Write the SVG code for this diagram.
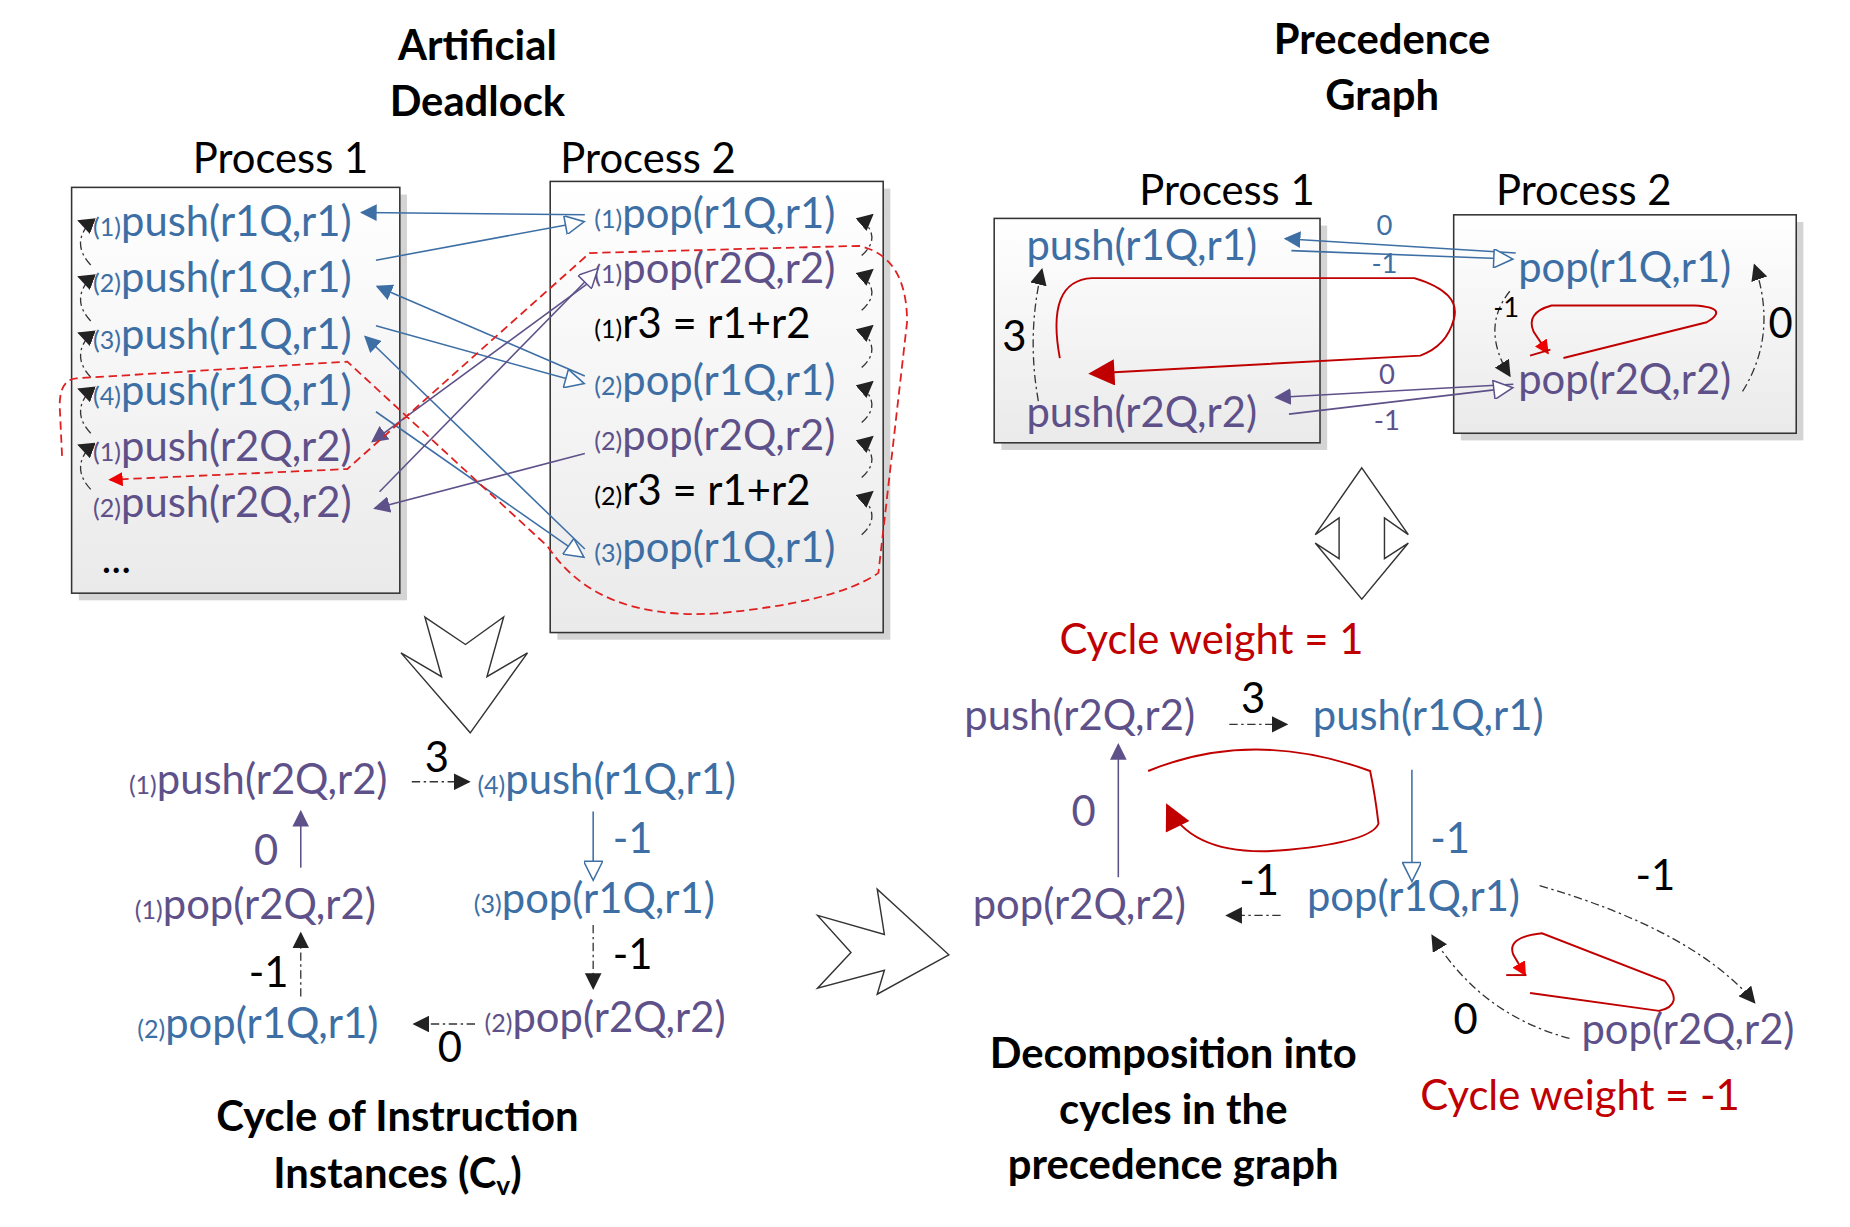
<svg xmlns="http://www.w3.org/2000/svg" width="1850" height="1227" viewBox="0 0 1850 1227">
<defs>
<style>
text{font-family:Lato,"Open Sans","Liberation Sans",sans-serif}
.t{font-size:35px}
.s{font-size:21px}
.n{font-size:23px}
.b{fill:#3d6fa5}.p{fill:#5e5189}.k{fill:#000}.r{fill:#c00000}
.h{font-size:35px;font-weight:bold;text-anchor:middle}
.box{fill:url(#g);stroke:#333;stroke-width:1.3}
.sh{fill:#d4d4d4}
.cb{fill:none;stroke:#3d6fa5;stroke-width:1.3}
.cp{fill:none;stroke:#5e5189;stroke-width:1.3}
.dd{fill:none;stroke:#333;stroke-width:1.1;stroke-dasharray:7 3 2 3}
.rd{fill:none;stroke:#e02020;stroke-width:1.5;stroke-dasharray:7 4}
.rc{fill:none;stroke:#c00000;stroke-width:1.6}
.big{fill:#fff;stroke:#333;stroke-width:1.2}
</style>
<linearGradient id="g" x1="0" y1="0" x2="0" y2="1"><stop offset="0" stop-color="#fff"/><stop offset="1" stop-color="#eaeaea"/></linearGradient>
<marker id="fb" viewBox="0 0 10 10" refX="9" refY="5" markerWidth="14" markerHeight="14" markerUnits="userSpaceOnUse" orient="auto"><path d="M0 0L10 5L0 10z" fill="#3d6fa5"/></marker>
<marker id="fp" viewBox="0 0 10 10" refX="9" refY="5" markerWidth="14" markerHeight="14" markerUnits="userSpaceOnUse" orient="auto"><path d="M0 0L10 5L0 10z" fill="#5e5189"/></marker>
<marker id="hb" viewBox="0 0 10 10" refX="9" refY="5" markerWidth="24" markerHeight="16" markerUnits="userSpaceOnUse" orient="auto"><path d="M0 0L10 5L0 10z" fill="#fff" stroke="#3d6fa5" stroke-width="0.8"/></marker>
<marker id="hp" viewBox="0 0 10 10" refX="9" refY="5" markerWidth="24" markerHeight="16" markerUnits="userSpaceOnUse" orient="auto"><path d="M0 0L10 5L0 10z" fill="#fff" stroke="#5e5189" stroke-width="0.8"/></marker>
<marker id="fk" viewBox="0 0 10 10" refX="9" refY="5" markerWidth="14" markerHeight="14" markerUnits="userSpaceOnUse" orient="auto"><path d="M0 0L10 5L0 10z" fill="#222"/></marker>
<marker id="fr" viewBox="0 0 10 10" refX="9" refY="5" markerWidth="26" markerHeight="22" markerUnits="userSpaceOnUse" orient="auto"><path d="M0 0L10 5L0 10z" fill="#c00000"/></marker>
<marker id="frs" viewBox="0 0 10 10" refX="9" refY="5" markerWidth="12" markerHeight="12" markerUnits="userSpaceOnUse" orient="auto"><path d="M0 0L10 5L0 10z" fill="#ee0000"/></marker>
</defs>
<rect width="1850" height="1227" fill="#fff"/>
<g transform="scale(1.1935)">
<g id="titles">
<text class="h" x="400" y="50">Artificial</text>
<text class="h" x="400" y="97">Deadlock</text>
<text class="h" x="1158" y="45">Precedence</text>
<text class="h" x="1158" y="92">Graph</text>
<text class="h" x="333" y="948">Cycle of Instruction</text>
<text class="h" x="333" y="995">Instances (C<tspan font-size="22" dy="6">v</tspan><tspan dy="-6">)</tspan></text>
<text class="h" x="983" y="895">Decomposition into</text>
<text class="h" x="983" y="942">cycles in the</text>
<text class="h" x="983" y="988">precedence graph</text>
<text class="t r" x="1015" y="548" text-anchor="middle">Cycle weight = 1</text>
<text class="t r" x="1190" y="930">Cycle weight = -1</text>
</g>
<g id="process1-dl">
<text class="t k" x="235" y="145" text-anchor="middle">Process 1</text>
<rect class="sh" x="66" y="163" width="275" height="340"/>
<rect class="box" x="60" y="157" width="275" height="340"/>
<text class="b" x="78" y="198"><tspan class="s">(1)</tspan><tspan class="t">push(r1Q,r1)</tspan></text>
<text class="b" x="78" y="245"><tspan class="s">(2)</tspan><tspan class="t">push(r1Q,r1)</tspan></text>
<text class="b" x="78" y="292"><tspan class="s">(3)</tspan><tspan class="t">push(r1Q,r1)</tspan></text>
<text class="b" x="78" y="339"><tspan class="s">(4)</tspan><tspan class="t">push(r1Q,r1)</tspan></text>
<text class="p" x="78" y="386"><tspan class="s">(1)</tspan><tspan class="t">push(r2Q,r2)</tspan></text>
<text class="p" x="78" y="433"><tspan class="s">(2)</tspan><tspan class="t">push(r2Q,r2)</tspan></text>
<text class="t k" x="85" y="480">...</text>
</g>
<g id="process2-dl">
<text class="t k" x="543" y="145" text-anchor="middle">Process 2</text>
<rect class="sh" x="467" y="158" width="279" height="378"/>
<rect class="box" x="461" y="152" width="279" height="378"/>
<text class="b" x="498" y="191"><tspan class="s">(1)</tspan><tspan class="t">pop(r1Q,r1)</tspan></text>
<text class="p" x="498" y="237"><tspan class="s">(1)</tspan><tspan class="t">pop(r2Q,r2)</tspan></text>
<text class="k" x="498" y="283"><tspan class="s">(1)</tspan><tspan class="t">r3 = r1+r2</tspan></text>
<text class="b" x="498" y="331"><tspan class="s">(2)</tspan><tspan class="t">pop(r1Q,r1)</tspan></text>
<text class="p" x="498" y="377"><tspan class="s">(2)</tspan><tspan class="t">pop(r2Q,r2)</tspan></text>
<text class="k" x="498" y="423"><tspan class="s">(2)</tspan><tspan class="t">r3 = r1+r2</tspan></text>
<text class="b" x="498" y="471"><tspan class="s">(3)</tspan><tspan class="t">pop(r1Q,r1)</tspan></text>
</g>
<g id="process1-pg">
<text class="t k" x="1028" y="172" text-anchor="middle">Process 1</text>
<rect class="sh" x="839" y="189" width="273" height="188"/>
<rect class="box" x="833" y="183" width="273" height="188"/>
<text class="t b" x="860" y="218">push(r1Q,r1)</text>
<text class="t p" x="860" y="358">push(r2Q,r2)</text>
</g>
<g id="process2-pg">
<text class="t k" x="1327" y="172" text-anchor="middle">Process 2</text>
<rect class="sh" x="1224" y="186" width="287" height="183"/>
<rect class="box" x="1218" y="180" width="287" height="183"/>
<text class="t b" x="1272" y="236">pop(r1Q,r1)</text>
<text class="t p" x="1272" y="330">pop(r2Q,r2)</text>
</g>
<g id="cycle-nodes">
<text class="p" x="108" y="665"><tspan class="s">(1)</tspan><tspan class="t">push(r2Q,r2)</tspan></text>
<text class="b" x="400" y="665"><tspan class="s">(4)</tspan><tspan class="t">push(r1Q,r1)</tspan></text>
<text class="p" x="113" y="770"><tspan class="s">(1)</tspan><tspan class="t">pop(r2Q,r2)</tspan></text>
<text class="b" x="397" y="765"><tspan class="s">(3)</tspan><tspan class="t">pop(r1Q,r1)</tspan></text>
<text class="b" x="115" y="870"><tspan class="s">(2)</tspan><tspan class="t">pop(r1Q,r1)</tspan></text>
<text class="p" x="406" y="865"><tspan class="s">(2)</tspan><tspan class="t">pop(r2Q,r2)</tspan></text>
</g>
<g id="decomp-nodes">
<text class="t p" x="808" y="612">push(r2Q,r2)</text>
<text class="t b" x="1100" y="612">push(r1Q,r1)</text>
<text class="t p" x="815" y="770">pop(r2Q,r2)</text>
<text class="t b" x="1095" y="763">pop(r1Q,r1)</text>
<text class="t p" x="1325" y="875">pop(r2Q,r2)</text>
</g>
<g id="big-arrows">
<polygon class="big" points="356,517 390,540 422,517 408,567 442,547 394,614 336,547 370,567"/>
<polygon class="big" points="685,767 741,783 735,745 795,800 735,833 741,813 685,828 713,798"/>
<polygon class="big" points="1141,392 1180,448 1160,434 1160,468 1180,455 1141,502 1102,455 1122,468 1122,434 1102,448"/>
</g>
<g id="connectors">
<path class="dd" d="M76 222Q60 205 74 188L66 185" marker-end="url(#fk)"/>
<path class="dd" d="M76 269Q60 252 74 235L66 232" marker-end="url(#fk)"/>
<path class="dd" d="M76 316Q60 299 74 282L66 279" marker-end="url(#fk)"/>
<path class="dd" d="M76 363Q60 346 74 329L66 326" marker-end="url(#fk)"/>
<path class="dd" d="M76 410Q60 393 74 376L66 373" marker-end="url(#fk)"/>
<path class="dd" d="M722 214Q738 200 724 186L731 180" marker-end="url(#fk)"/>
<path class="dd" d="M722 260Q738 246 724 232L731 226" marker-end="url(#fk)"/>
<path class="dd" d="M722 308Q738 294 724 279L731 273" marker-end="url(#fk)"/>
<path class="dd" d="M722 354Q738 340 724 326L731 320" marker-end="url(#fk)"/>
<path class="dd" d="M722 400Q738 386 724 372L731 366" marker-end="url(#fk)"/>
<path class="dd" d="M722 448Q738 434 724 418L731 412" marker-end="url(#fk)"/>
<path class="cb" d="M490 180L303 178" marker-end="url(#fb)"/>
<path class="cb" d="M315 218L488 186" marker-end="url(#hb)"/>
<path class="cb" d="M490 315L316 240" marker-end="url(#fb)"/>
<path class="cb" d="M315 273L488 321" marker-end="url(#hb)"/>
<path class="cb" d="M490 460L306 282" marker-end="url(#fb)"/>
<path class="cb" d="M315 345L488 466" marker-end="url(#hb)"/>
<path class="cp" d="M500 232L312 370" marker-end="url(#fp)"/>
<path class="cp" d="M318 412L500 226" marker-end="url(#hp)"/>
<path class="cp" d="M490 380L314 426" marker-end="url(#fp)"/>
<path class="rd" d="M52 382L50 340Q50 318 64 317L291 303L459 458Q500 520 600 514Q700 505 736 480L760 270Q760 215 720 206L494 212L291 393L92 402" marker-end="url(#frs)"/>
<path class="cb" d="M1270 212L1077 200" marker-end="url(#fb)"/>
<path class="cb" d="M1082 210L1266 217" marker-end="url(#hb)"/>
<path class="cp" d="M1268 322L1069 333" marker-end="url(#fp)"/>
<path class="cp" d="M1080 347L1266 325" marker-end="url(#hp)"/>
<path class="dd" d="M870 336Q860 280 873 226" marker-end="url(#fk)"/>
<path class="dd" d="M1265 244Q1240 275 1265 315" marker-end="url(#fk)"/>
<path class="dd" d="M1460 328Q1490 280 1470 222" marker-end="url(#fk)"/>
<path class="rc" d="M888 300Q876 235 915 233L1185 233Q1225 245 1218 268Q1212 290 1190 298L914 313" marker-end="url(#fr)"/>
<path class="rc" d="M1310 300L1430 270Q1450 258 1420 256L1300 256Q1278 262 1285 278L1297 296" marker-end="url(#frs)"/>
<path class="rc" d="M1282 298L1299 293"/>
<path class="dd" d="M345 655L393 655" marker-end="url(#fk)"/>
<path class="cp" d="M252 727L252 680" marker-end="url(#fp)"/>
<path class="cb" d="M497 680L497 736" marker-end="url(#hb)"/>
<path class="dd" d="M497 775L497 828" marker-end="url(#fk)"/>
<path class="dd" d="M252 835L252 782" marker-end="url(#fk)"/>
<path class="dd" d="M398 858L347 858" marker-end="url(#fk)"/>
<path class="dd" d="M1030 607L1078 607" marker-end="url(#fk)"/>
<path class="cp" d="M937 735L937 624" marker-end="url(#fp)"/>
<path class="cb" d="M1183 645L1183 737" marker-end="url(#hb)"/>
<path class="dd" d="M1073 767L1028 767" marker-end="url(#fk)"/>
<path class="dd" d="M1290 742Q1420 780 1470 840" marker-end="url(#fk)"/>
<path class="dd" d="M1315 870Q1240 850 1200 784" marker-end="url(#fk)"/>
<path class="rc" d="M962 646Q1050 610 1148 646Q1152 665 1155 690Q1150 705 1080 712Q1000 720 978 675" marker-end="url(#fr)"/>
<path class="rc" d="M1282 832L1390 847Q1412 842 1395 822L1292 782Q1262 785 1268 800L1278 817" marker-end="url(#frs)"/>
<path class="rc" d="M1262 817L1279 817"/>
</g>
<g id="labels">
<text class="t k" x="366" y="647" text-anchor="middle">3</text>
<text class="t p" x="223" y="725" text-anchor="middle">0</text>
<text class="t b" x="530" y="715" text-anchor="middle">-1</text>
<text class="t k" x="530" y="812" text-anchor="middle">-1</text>
<text class="t k" x="225" y="827" text-anchor="middle">-1</text>
<text class="t k" x="377" y="890" text-anchor="middle">0</text>
<text class="b n" x="1160" y="197" text-anchor="middle">0</text>
<text class="b n" x="1160" y="229" text-anchor="middle">-1</text>
<text class="p n" x="1162" y="322" text-anchor="middle">0</text>
<text class="p n" x="1162" y="360" text-anchor="middle">-1</text>
<text class="t k" x="850" y="294" text-anchor="middle">3</text>
<text class="k n" x="1262" y="266" text-anchor="middle">-1</text>
<text class="t k" x="1492" y="283" text-anchor="middle">0</text>
<text class="t k" x="1050" y="597" text-anchor="middle">3</text>
<text class="t p" x="908" y="692" text-anchor="middle">0</text>
<text class="t b" x="1215" y="715" text-anchor="middle">-1</text>
<text class="t k" x="1055" y="750" text-anchor="middle">-1</text>
<text class="t k" x="1387" y="746" text-anchor="middle">-1</text>
<text class="t k" x="1228" y="866" text-anchor="middle">0</text>
</g>
</g>
</svg>
